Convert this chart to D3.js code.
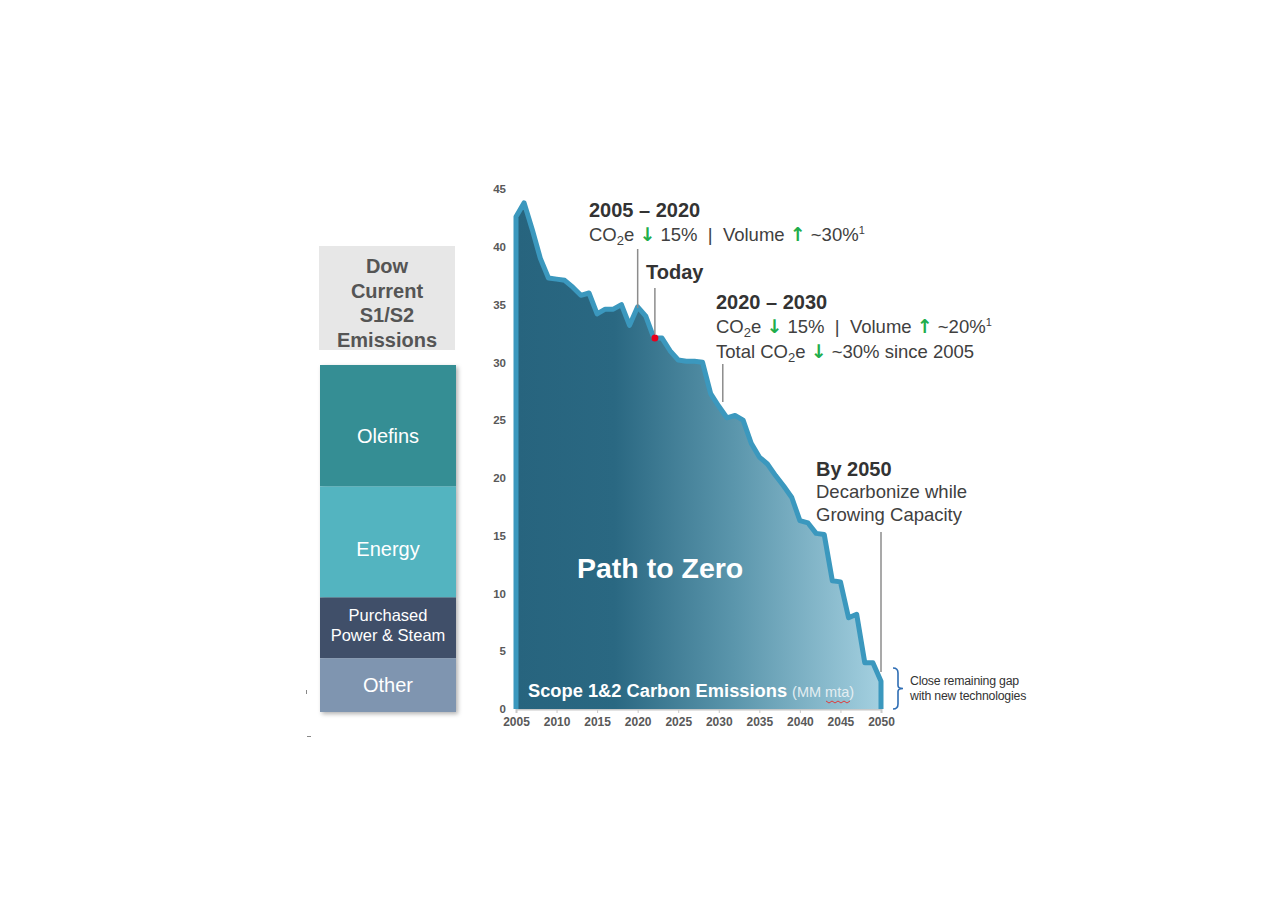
<!DOCTYPE html>
<html>
<head>
<meta charset="utf-8">
<script src="https://cdn.jsdelivr.net/npm/d3@7"></script>
<style>
  body { margin: 0; background: #fff; }
  svg { display: block; font-family: "Liberation Sans", Arial, sans-serif; }
  .pre { white-space: pre; }
</style>
</head>
<body>
<div id="chart"></div>
<script>
// emissions path, MM mta
var years = [2005, 2006, 2007, 2008, 2009, 2010, 2011, 2012, 2013, 2014, 2015, 2016, 2017, 2018, 2019,
  2020, 2021, 2022, 2023, 2024, 2025, 2026, 2027, 2028, 2029, 2030, 2031, 2032, 2033, 2034, 2035,
  2036, 2037, 2038, 2039, 2040, 2041, 2042, 2043, 2044, 2045, 2046, 2047, 2048, 2049, 2050];
var emissions = [42.6, 43.8, 41.5, 39.0, 37.3, 37.2, 37.1, 36.5, 35.8, 36.0, 34.2, 34.6, 34.6, 35.0, 33.2,
  34.8, 34.0, 32.1, 32.1, 31.0, 30.2, 30.1, 30.1, 30.0, 27.3, 26.2, 25.2, 25.4, 25.0, 23.0, 21.8,
  21.2, 20.2, 19.3, 18.3, 16.3, 16.1, 15.2, 15.1, 11.1, 11.0, 7.9, 8.2, 4.0, 4.0, 2.4];
var xTicks = [2005, 2010, 2015, 2020, 2025, 2030, 2035, 2040, 2045, 2050];
var yTicks = [0, 5, 10, 15, 20, 25, 30, 35, 40, 45];
var todayYear = 2022;

// current S1/S2 split (share of total)
var segNames = ["Olefins", "Energy", "Purchased Power & Steam", "Other"];
var segShares = [35, 32, 17.5, 15.5];
var segColors = ["#368e94", "#52b4c0", "#3f5069", "#7f95b0"];

var svg = d3.select("#chart").append("svg")
  .attr("width", 1280)
  .attr("height", 914);

var x = d3.scaleLinear().domain([2005, 2050]).range([516, 881]);
var y = d3.scaleLinear().domain([0, 45]).range([709, 189]);

var data = years.map(function(yr, i) { return { year: yr, value: emissions[i] }; });

var defs = svg.append("defs");
var grad = defs.append("linearGradient")
  .attr("id", "fade")
  .attr("gradientUnits", "userSpaceOnUse")
  .attr("x1", x(2005)).attr("x2", x(2050))
  .attr("y1", 0).attr("y2", 0);
grad.append("stop").attr("offset", "0%").attr("stop-color", "#27647e");
grad.append("stop").attr("offset", "27%").attr("stop-color", "#2a6882");
grad.append("stop").attr("offset", "60%").attr("stop-color", "#5b96ac");
grad.append("stop").attr("offset", "100%").attr("stop-color", "#a4d0e0");

var shadow = defs.append("filter").attr("id", "shadow")
  .attr("x", "-10%").attr("y", "-10%").attr("width", "125%").attr("height", "125%");
shadow.append("feDropShadow")
  .attr("dx", 2).attr("dy", 2).attr("stdDeviation", 2)
  .attr("flood-color", "#000").attr("flood-opacity", 0.3);

// x axis baseline
var xAxis = svg.append("g")
  .attr("transform", "translate(0," + y(0) + ")")
  .call(d3.axisBottom(x).tickValues(xTicks).tickFormat(d3.format("d")).tickSize(4).tickPadding(4));
xAxis.select(".domain").attr("stroke", "#c8c8c8").attr("stroke-width", 2);
xAxis.selectAll(".tick line").attr("stroke", "#c8c8c8");
xAxis.selectAll("text")
  .attr("font-size", 12).attr("font-weight", "bold")
  .attr("fill", "#595959").attr("font-family", "Liberation Sans, Arial, sans-serif");

var yAxis = svg.append("g")
  .attr("transform", "translate(506,0)")
  .call(d3.axisLeft(y).tickValues(yTicks).tickSize(0).tickPadding(0));
yAxis.select(".domain").remove();
yAxis.selectAll("text")
  .attr("font-size", 11.5).attr("font-weight", "bold")
  .attr("fill", "#595959").attr("font-family", "Liberation Sans, Arial, sans-serif");

// area
var area = d3.area()
  .x(function(d) { return x(d.year); })
  .y0(y(0))
  .y1(function(d) { return y(d.value); });

svg.append("path")
  .datum(data)
  .attr("d", area)
  .attr("fill", "url(#fade)");

// outline: left edge, top, right edge
var outline = [{ year: 2005, value: 0 }].concat(data, [{ year: 2050, value: 0 }]);
svg.append("path")
  .datum(outline)
  .attr("d", d3.line().x(function(d) { return x(d.year); }).y(function(d) { return y(d.value); }))
  .attr("fill", "none")
  .attr("stroke", "#3b98be")
  .attr("stroke-width", 5)
  .attr("stroke-linejoin", "round");

// text inside the area
svg.append("text")
  .attr("x", 577).attr("y", 578)
  .attr("fill", "#fff").attr("font-size", 28.5).attr("font-weight", "bold")
  .text("Path to Zero");

var scope = svg.append("text")
  .attr("x", 528).attr("y", 697)
  .attr("fill", "#fff");
scope.append("tspan").attr("font-size", 18.3).attr("font-weight", "bold").text("Scope 1&2 Carbon Emissions");
scope.append("tspan").attr("font-size", 14.5).attr("fill", "#e4eef2").attr("dx", 5).text("(MM mta)");
// squiggle under "mta"
svg.append("path")
  .attr("d", d3.range(0, 9).map(function(i) { return (i === 0 ? "M" : "L") + (826 + i * 3) + "," + (701 + (i % 2) * 2); }).join(""))
  .attr("fill", "none").attr("stroke", "#e03a3a").attr("stroke-width", 1);

// leader lines and annotations
var ink = "#404040";
var green = "#21ad4b";

function leader(x0, y0, y1) {
  svg.append("line")
    .attr("x1", x0).attr("x2", x0).attr("y1", y0).attr("y2", y1)
    .attr("stroke", "#8c8c8c").attr("stroke-width", 1.5);
}
leader(x(2020), 249, 308);
leader(x(todayYear) + 1, 288, y(32.1) - 4);
leader(x(2030) + 4, 364, 402);
leader(x(2050), 532, 672);

svg.append("circle")
  .attr("cx", x(todayYear) + 1).attr("cy", y(32.1))
  .attr("r", 3.5).attr("fill", "#e8001c");

function heading(tx, ty, s) {
  svg.append("text").attr("x", tx).attr("y", ty)
    .attr("font-size", 20).attr("font-weight", "bold").attr("fill", "#333")
    .text(s);
}
function co2Line(tx, ty, parts) {
  var t = svg.append("text").attr("class", "pre").attr("x", tx).attr("y", ty)
    .attr("font-size", 18.5).attr("fill", ink);
  parts.forEach(function(p) {
    var s = t.append("tspan").text(p.t);
    if (p.sub) s.attr("font-size", 13).attr("dy", 4);
    if (p.up) s.attr("dy", -4);
    if (p.arrow) s.attr("fill", green).attr("font-weight", "bold")
      .attr("font-family", "DejaVu Sans, sans-serif").attr("font-size", 19);
    if (p.sup) s.attr("font-size", 11).attr("dy", -7);
  });
}

heading(589, 217, "2005 – 2020");
co2Line(589, 241, [
  { t: "CO" }, { t: "2", sub: true }, { t: "e ", up: true }, { t: "↓", arrow: true },
  { t: " 15%  |  Volume " }, { t: "↑", arrow: true }, { t: " ~30%" }, { t: "1", sup: true }
]);

heading(646, 279, "Today");

heading(716, 309, "2020 – 2030");
co2Line(716, 333, [
  { t: "CO" }, { t: "2", sub: true }, { t: "e ", up: true }, { t: "↓", arrow: true },
  { t: " 15%  |  Volume " }, { t: "↑", arrow: true }, { t: " ~20%" }, { t: "1", sup: true }
]);
co2Line(716, 358, [
  { t: "Total CO" }, { t: "2", sub: true }, { t: "e ", up: true }, { t: "↓", arrow: true },
  { t: " ~30% since 2005" }
]);

heading(816, 476, "By 2050");
svg.append("text").attr("x", 816).attr("y", 498)
  .attr("font-size", 18.5).attr("fill", ink).text("Decarbonize while");
svg.append("text").attr("x", 816).attr("y", 521)
  .attr("font-size", 18.5).attr("fill", ink).text("Growing Capacity");

// bracket for remaining gap
var bTop = 668, bBot = y(0), bMid = (bTop + bBot) / 2;
svg.append("path")
  .attr("d", "M893," + bTop + " Q898," + bTop + " 898," + (bTop + 5) +
    " L898," + (bMid - 3) + " Q898," + bMid + " 903," + bMid +
    " Q898," + bMid + " 898," + (bMid + 3) +
    " L898," + (bBot - 5) + " Q898," + bBot + " 893," + bBot)
  .attr("fill", "none").attr("stroke", "#2e6db4").attr("stroke-width", 1.6);
svg.append("text").attr("x", 910).attr("y", 685)
  .attr("font-size", 12.3).attr("fill", "#333").attr("letter-spacing", -0.2).text("Close remaining gap");
svg.append("text").attr("x", 910).attr("y", 700)
  .attr("font-size", 12.3).attr("fill", "#333").attr("letter-spacing", -0.2).text("with new technologies");

// left stacked bar: current S1/S2 emissions
svg.append("rect")
  .attr("x", 319).attr("y", 246).attr("width", 136).attr("height", 104)
  .attr("fill", "#e7e7e7");
["Dow", "Current", "S1/S2", "Emissions"].forEach(function(s, i) {
  svg.append("text")
    .attr("x", 387).attr("y", 273 + i * 24.5)
    .attr("text-anchor", "middle")
    .attr("font-size", 20).attr("font-weight", "bold").attr("fill", "#555")
    .text(s);
});

var segRows = [{}];
segNames.forEach(function(n, i) { segRows[0][n] = segShares[i]; });
var stacked = d3.stack().keys(segNames)(segRows);
var yBar = d3.scaleLinear().domain([0, d3.sum(segShares)]).range([365, 712]);

var bars = svg.append("g").attr("filter", "url(#shadow)");
bars.selectAll("rect")
  .data(stacked)
  .enter().append("rect")
  .attr("x", 320).attr("width", 136)
  .attr("y", function(d) { return yBar(d[0][0]); })
  .attr("height", function(d) { return yBar(d[0][1]) - yBar(d[0][0]); })
  .attr("fill", function(d, i) { return segColors[i]; });

var labelShift = { "Olefins": 17, "Energy": 14, "Other": 7 };
stacked.forEach(function(d) {
  var cy = (yBar(d[0][0]) + yBar(d[0][1])) / 2;
  if (d.key === "Purchased Power & Steam") {
    svg.append("text").attr("x", 388).attr("y", cy - 7)
      .attr("text-anchor", "middle").attr("font-size", 16.5).attr("fill", "#fff").text("Purchased");
    svg.append("text").attr("x", 388).attr("y", cy + 13)
      .attr("text-anchor", "middle").attr("font-size", 16.5).attr("fill", "#fff").text("Power & Steam");
  } else {
    svg.append("text").attr("x", 388).attr("y", cy + labelShift[d.key])
      .attr("text-anchor", "middle").attr("font-size", 20).attr("fill", "#fff").text(d.key);
  }
});

// stray marks left on the slide
svg.append("rect").attr("x", 306).attr("y", 690).attr("width", 1).attr("height", 4).attr("fill", "#888");
svg.append("rect").attr("x", 307).attr("y", 736).attr("width", 4).attr("height", 1).attr("fill", "#888");
</script>
</body>
</html>
